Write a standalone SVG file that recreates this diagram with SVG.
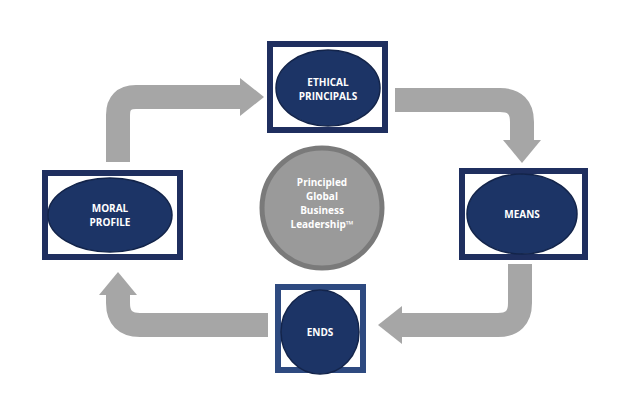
<svg xmlns="http://www.w3.org/2000/svg" width="624" height="400" viewBox="0 0 624 400">
<style>
.band{fill:none;stroke:#a6a6a6;stroke-width:24}
.head{fill:#a6a6a6}
.frame{fill:#fff;stroke-width:6}
.oval{fill:#1c3466;stroke:#13244a;stroke-width:1.5}
.t{font-family:"Open Sans","Liberation Sans",sans-serif;font-size:10px;font-weight:bold;fill:#fff;text-anchor:middle}
</style>
<rect width="624" height="400" fill="#fff"/>
<g id="connectors">
<path class="band" d="M118 162 V115 Q118 97 136 97 H242"/>
<polygon class="head" points="240,78 264,97 240,116"/>
<path class="band" d="M395 100 H500 Q522 100 522 122 V140"/>
<polygon class="head" points="503,140 541,140 522,163"/>
<path class="band" d="M520 264 V303 Q520 325 498 325 H400"/>
<polygon class="head" points="402,306 402,344 378,325"/>
<path class="band" d="M268 325 H140 Q118 325 118 303 V295"/>
<polygon class="head" points="99,295 137,295 118,272"/>
</g>
<g id="ethical">
<rect class="frame" x="270" y="44" width="115" height="86" stroke="#1f2f5f"/>
<ellipse class="oval" cx="328" cy="88" rx="52" ry="38"/>
<text class="t" x="328" y="86">ETHICAL</text>
<text class="t" x="328" y="100">PRINCIPALS</text>
</g>
<g id="means">
<rect class="frame" x="462" y="171" width="123" height="86" stroke="#1f2f5f"/>
<ellipse class="oval" cx="522" cy="214" rx="55" ry="40" fill="#243d70"/>
<text class="t" x="522" y="218">MEANS</text>
</g>
<g id="ends">
<rect class="frame" x="278" y="287" width="85" height="83" stroke="#2e4a80"/>
<ellipse class="oval" cx="320" cy="332" rx="39" ry="42"/>
<text class="t" x="320" y="336">ENDS</text>
</g>
<g id="moral">
<rect class="frame" x="45" y="173" width="135" height="84" stroke="#1f2f5f"/>
<ellipse class="oval" cx="110" cy="215" rx="62" ry="37"/>
<text class="t" x="110" y="212">MORAL</text>
<text class="t" x="110" y="226">PROFILE</text>
</g>
<g id="center">
<circle cx="322" cy="208" r="60" fill="#9a9a9a" stroke="#7a7a7a" stroke-width="5"/>
<text class="t" x="322" y="186" font-size="11">Principled</text>
<text class="t" x="322" y="200" font-size="11">Global</text>
<text class="t" x="322" y="214" font-size="11">Business</text>
<text class="t" x="322" y="228" font-size="11">Leadership™</text>
</g>
</svg>
